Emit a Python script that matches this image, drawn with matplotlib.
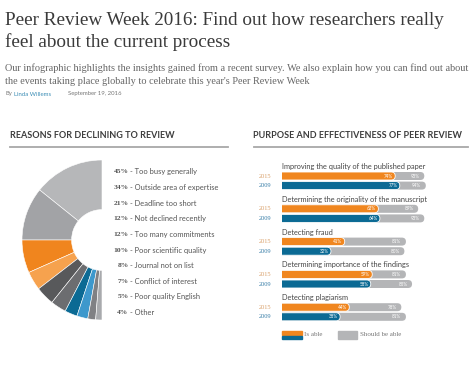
import matplotlib
matplotlib.use("Agg")
import matplotlib.pyplot as plt
from matplotlib.patches import FancyBboxPatch, Rectangle
from matplotlib.lines import Line2D

W, H = 474, 381

# reasons for declining to review (donut, multiple answers so sum > 100)
reasons = ["Too busy generally", "Outside area of expertise", "Deadline too short",
           "Not declined recently", "Too many commitments", "Poor scientific quality",
           "Journal not on list", "Conflict of interest", "Poor quality English", "Other"]
reason_pct = [45, 34, 21, 12, 12, 10, 8, 7, 5, 4]
reason_colors = ["#b6b7b9", "#a2a3a6", "#f0851e", "#f6a24e", "#58595b",
                 "#6c6d70", "#0b6a94", "#3d98cc", "#808184", "#a8aaad"]

# purpose and effectiveness of peer review
purposes = ["Improving the quality of the published paper",
            "Determining the originality of the manuscript",
            "Detecting fraud",
            "Determining importance of the findings",
            "Detecting plagiarism"]
years = ["2015", "2009"]
able_2015 = [74, 63, 41, 59, 44]
should_2015 = [93, 89, 81, 81, 78]
able_2009 = [77, 64, 32, 58, 38]
should_2009 = [94, 93, 80, 85, 81]

ORANGE = "#f0861f"
BLUE = "#0b6a94"
GREY = "#b4b5b7"
TXT = "#444444"

SANS = ["Lato", "DejaVu Sans"]
SERIF = ["Liberation Serif", "DejaVu Serif"]

fig = plt.figure(figsize=(W / 100, H / 100), dpi=100)
fig.patch.set_facecolor("white")


def ftext(x, y, s, **kw):
    # place text using pixel coords measured from the top-left
    return fig.text(x / W, 1 - y / H, s, **kw)


def px_axes(x0, y0, x1, y1):
    return fig.add_axes([x0 / W, 1 - y1 / H, (x1 - x0) / W, (y1 - y0) / H])


# header
ftext(5, 25, "Peer Review Week 2016: Find out how researchers really",
      size=13.8, family=SERIF, color="#3a3a3a", va="baseline")
ftext(5, 47, "feel about the current process",
      size=13.8, family=SERIF, color="#3a3a3a", va="baseline")
ftext(5, 68, "Our infographic highlights the insights gained from a recent survey. "
      "We also explain how you can find out about",
      size=7.35, family=SERIF, color="#666666", va="center")
ftext(5, 81, "the events taking place globally to celebrate this year's Peer Review Week",
      size=7.35, family=SERIF, color="#666666", va="center")
ftext(5, 94, "By", size=4.3, family=SANS, color="#777777", va="center")
ftext(13.5, 94, "Linda Willems", size=4.3, family=SANS, color="#3b8db5", va="center")
ftext(68, 94, "September 19, 2016", size=4.3, family=SANS, color="#777777", va="center")

# section titles
ftext(10, 135, "REASONS FOR DECLINING TO REVIEW", size=6.45, family=SANS,
      weight="bold", color="#3d3d3d", va="center")
ftext(253, 135, "PURPOSE AND EFFECTIVENESS OF PEER REVIEW", size=6.45, family=SANS,
      weight="bold", color="#3d3d3d", va="center")
fig.add_artist(Line2D([10 / W, 228 / W], [1 - 146.5 / H] * 2, color="#a8a8a8", lw=1.3))
fig.add_artist(Line2D([254 / W, 468 / W], [1 - 146.5 / H] * 2, color="#a8a8a8", lw=1.3))

# half donut: pad with an invisible wedge equal to the total so the data fill 180 degrees
ax_d = px_axes(22, 160, 182, 320)
wedges, _ = ax_d.pie(reason_pct + [sum(reason_pct)], colors=reason_colors + ["white"],
                     startangle=90, counterclock=True,
                     wedgeprops=dict(width=0.62, edgecolor="white", linewidth=0.4))
wedges[-1].set_visible(False)
ax_d.set_xlim(-1, 1)
ax_d.set_ylim(-1, 1)
ax_d.set_aspect("auto")
ax_d.axis("off")

# list of reasons
for i, (pct, name) in enumerate(zip(reason_pct, reasons)):
    y = 172 + 15.6 * i
    ftext(128.5, y, f"{pct}%", size=5.4, family=SERIF, weight="bold",
          color="#555555", ha="right", va="center")
    ftext(130.5, y, f"- {name}", size=5.4, family=SANS, color="#555555", va="center")

# bars
X0, X1 = 282, 435
Y0, Y1 = 155, 325
ax_b = px_axes(X0, Y0, X1, Y1)
ax_b.set_xlim(0, 100)
ax_b.set_ylim(Y1, Y0)
ax_b.axis("off")

px_per_unit = (X1 - X0) / 100
bar_h = 8
r_x = (bar_h / 2) / px_per_unit
aspect = (bar_h / 2) / r_x


def pill(ax, value, y, color, edge):
    p = FancyBboxPatch((-r_x * 2, y - bar_h / 2), value + r_x * 2, bar_h,
                       boxstyle=f"round,pad=0,rounding_size={r_x}",
                       mutation_aspect=aspect, facecolor=color,
                       edgecolor=edge, linewidth=0.6)
    ax.add_patch(p)
    return p


for i, name in enumerate(purposes):
    yg = 176 + 32.8 * i
    ax_b.text(0, yg - 9.6, name, size=5.35, family=SANS, color=TXT, va="center")
    rows = [(yg, able_2015[i], should_2015[i], ORANGE, "#d9a06a"),
            (yg + 9.6, able_2009[i], should_2009[i], BLUE, "#3a7fa8")]
    for (y, able, should, col, ycol), yr in zip(rows, years):
        pill(ax_b, should, y, GREY, "none")
        pill(ax_b, able, y, col, "white")
        ax_b.text(able - 4.5, y, f"{able}%", size=3.3, family=SANS, color="white",
                  ha="center", va="center")
        ax_b.text(should - 6, y, f"{should}%", size=3.3, family=SANS, color="white",
                  ha="center", va="center")
        ax_b.text(-7, y, yr, size=4.6, family=SERIF, color=ycol,
                  ha="right", va="center")

# legend
fig.add_artist(Rectangle((282 / W, 1 - 335 / H), 20 / W, 4 / H, color=ORANGE,
                         transform=fig.transFigure))
fig.add_artist(Rectangle((282 / W, 1 - 339.3 / H), 20 / W, 3.8 / H, color=BLUE,
                         transform=fig.transFigure))
ftext(304, 335, "Is able", size=5, family=SERIF, color="#777777", va="center")
fig.add_artist(Rectangle((338 / W, 1 - 339 / H), 19 / W, 8 / H, color=GREY,
                         transform=fig.transFigure))
ftext(360, 335, "Should be able", size=5, family=SERIF, color="#777777", va="center")

fig.savefig("out.png", dpi=100, facecolor="white")
